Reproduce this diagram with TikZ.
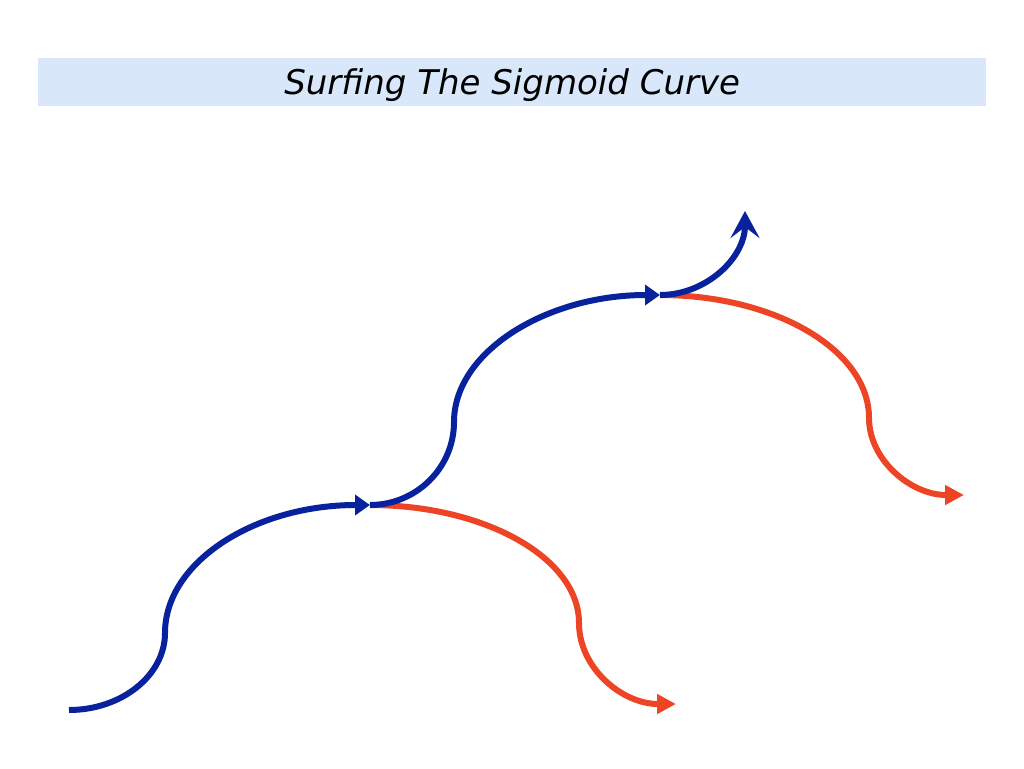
\documentclass[tikz,border=0pt]{standalone}
\usepackage{fontspec}
\setmainfont{DejaVu Sans}
\usetikzlibrary{arrows.meta}
\definecolor{sigblue}{RGB}{8,34,158}
\definecolor{sigred}{RGB}{238,68,38}
\definecolor{titlebg}{RGB}{216,231,250}
\begin{document}
\begin{tikzpicture}[x=1pt,y=-1pt,
  bluecurve/.style={draw=sigblue,line width=6pt},
  redcurve/.style={draw=sigred,line width=6pt},
  midtip/.style={-{Triangle[length=15pt,width=20pt]}},
  endtip/.style={-{Triangle[length=19pt,width=19pt]}},
  toptip/.style={-{Stealth[length=27pt,width=29pt,inset=11pt]}}]
\useasboundingbox (0,0) rectangle (1024,768);
\node[fill=titlebg,minimum width=948pt,minimum height=48pt,inner sep=0pt,anchor=north west] (title) at (38,58) {};
\node (titletext) at ([yshift=-3pt]title.center) {\fontsize{34}{40}\selectfont\itshape Surfing The Sigmoid Curve};
% points
\coordinate (A) at (69,710);
\coordinate (B) at (165,633);
\coordinate (C) at (370,505);
\coordinate (D) at (579,623);
\coordinate (E) at (676,704);
\coordinate (F) at (454,422);
\coordinate (G) at (660,295);
\coordinate (H) at (869,418);
\coordinate (I) at (964,495);
\coordinate (J) at (745,211);
% orange curves
\draw[redcurve,endtip] (C) .. controls (485,505) and (579,558) .. (D)
  .. controls (579,668) and (622,704) .. (E);
\draw[redcurve,endtip] (G) .. controls (775,295) and (869,350) .. (H)
  .. controls (869,460) and (911,495) .. (I);
% blue curves
\draw[bluecurve,midtip] (A) .. controls (122,710) and (165,675) .. (B)
  .. controls (165,562) and (255,505) .. (C);
\draw[bluecurve,midtip] (C) .. controls (416,505) and (454,468) .. (F)
  .. controls (454,352) and (546,295) .. (G);
\draw[bluecurve,toptip] (G) .. controls (706,295) and (745,258) .. (J);
\end{tikzpicture}
\end{document}
